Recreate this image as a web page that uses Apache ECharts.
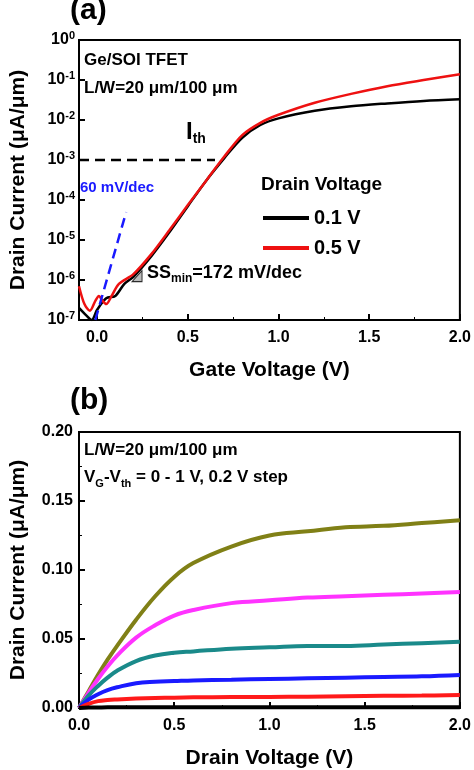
<!DOCTYPE html>
<html><head><meta charset="utf-8">
<script src="https://cdn.jsdelivr.net/npm/echarts@6/dist/echarts.min.js"></script>
<style>html,body{margin:0;padding:0;background:#fff}#main{width:474px;height:770px}</style>
</head><body><div id="main"></div>
<script>
// panel (a): transfer curves, [Vg, Id]
var transfer01 = [[-0.1,2e-7],[-0.06,1.3e-7],[-0.03,1e-7],[0,1.8e-7],[0.05,3.5e-7],[0.1,4e-7],[0.15,8e-7],[0.2,1.2e-6],[0.3,4e-6],[0.4,1.6e-5],[0.5,7e-5],[0.6,3e-4],[0.7,1.1e-3],[0.8,3.6e-3],[0.9,7.5e-3],[1.0,1.1e-2],[1.2,1.7e-2],[1.4,2.2e-2],[1.6,2.6e-2],[1.8,3e-2],[2.0,3.3e-2]];
var transfer05 = [[-0.1,7e-7],[-0.07,2.5e-7],[-0.04,1.7e-7],[-0.01,3e-7],[0.01,4e-7],[0.03,3e-7],[0.05,2.5e-7],[0.08,4e-7],[0.12,8e-7],[0.2,1.4e-6],[0.3,4.5e-6],[0.4,1.8e-5],[0.5,7.5e-5],[0.6,3e-4],[0.7,1.2e-3],[0.8,4.2e-3],[0.9,8.5e-3],[1.0,1.35e-2],[1.2,2.7e-2],[1.4,4.5e-2],[1.6,7e-2],[1.8,1e-1],[2.0,1.4e-1]];
var slope60 = [[-0.01,1e-7],[0.16,5e-5]];
var ithLine = [[-0.1,1e-3],[0.65,1e-3]];
var gateTicks = [0,0.5,1,1.5,2];
// panel (b): output curves
var drainV = [0,0.05,0.1,0.15,0.2,0.3,0.4,0.5,0.6,0.8,1.0,1.2,1.4,1.6,1.8,2.0];
var out00 = [0,0.0003,0.0004,0.0005,0.0005,0.0005,0.0005,0.0005,0.0005,0.0005,0.0005,0.0005,0.0005,0.0005,0.0005,0.0005];
var out02 = [0,0.003,0.005,0.0058,0.0062,0.0068,0.0072,0.0075,0.0077,0.0079,0.008,0.0082,0.0085,0.0088,0.009,0.0095];
var out04 = [0,0.006,0.01,0.013,0.015,0.018,0.019,0.0195,0.02,0.0205,0.021,0.0215,0.022,0.0225,0.023,0.024];
var out06 = [0,0.009,0.016,0.022,0.027,0.034,0.038,0.04,0.041,0.043,0.044,0.045,0.045,0.046,0.047,0.048];
var out08 = [0,0.011,0.021,0.03,0.038,0.051,0.06,0.067,0.071,0.076,0.078,0.08,0.081,0.082,0.083,0.084];
var out10 = [0,0.012,0.024,0.035,0.045,0.064,0.081,0.095,0.105,0.117,0.125,0.128,0.131,0.132,0.134,0.136];
var outColors = ['#000000','#ff1a1a','#1a1aff','#1a8a8a','#ff33ff','#808016'];

function pairs(ys){ return drainV.map(function(x,i){ return [x, ys[i]]; }); }
var F = 'Liberation Sans, Arial, sans-serif';
var lab = {color:'#000', fontFamily:F, fontWeight:'bold', fontSize:16};
var nameSt = {color:'#000', fontFamily:F, fontWeight:'bold', fontSize:21};
var axLine = {show:true, onZero:false, lineStyle:{color:'#000', width:2}};

var outSeries = [out00,out02,out04,out06,out08,out10].map(function(d,i){
  return {type:'line', xAxisIndex:1, yAxisIndex:1, data:pairs(d), showSymbol:false, smooth:0.4,
    lineStyle:{color:outColors[i], width:4}, z:10-i};
});

var chart = echarts.init(document.getElementById('main'));
chart.setOption({
  animation:false,
  grid:[
    {left:74, top:40, width:387, height:280, show:true, borderColor:'#000', borderWidth:2},
    {left:74, top:432, width:388, height:282, show:true, borderColor:'#000', borderWidth:2}
  ],
  xAxis:[
    {type:'value', gridIndex:0, min:-0.1, max:2.0, axisLine:axLine, splitLine:{show:false},
     axisTick:{inside:true, length:6, lineStyle:{width:2}, customValues:gateTicks},
     minorTick:{show:true, splitNumber:2, length:3},
     axisLabel:Object.assign({customValues:gateTicks, margin:10, formatter:function(v){return v.toFixed(1);}}, lab),
     name:'Gate Voltage (V)', nameLocation:'middle', nameGap:40, nameTextStyle:nameSt},
    {type:'value', gridIndex:1, min:0, max:2, interval:0.5, axisLine:axLine, splitLine:{show:false},
     axisTick:{inside:true, length:6, lineStyle:{width:2}},
     minorTick:{show:true, splitNumber:2, length:3},
     axisLabel:Object.assign({margin:10, formatter:function(v){return v.toFixed(1);}}, lab),
     name:'Drain Voltage (V)', nameLocation:'middle', nameGap:40, nameTextStyle:nameSt}
  ],
  yAxis:[
    {type:'log', gridIndex:0, min:1e-7, max:1, logBase:10, axisLine:axLine, splitLine:{show:false},
     axisTick:{inside:true, length:6, lineStyle:{width:2}},
     axisLabel:Object.assign({margin:4, formatter:function(v){return '{b|10}{s|'+Math.round(Math.log10(v))+'}';},
       rich:{b:{fontFamily:F,fontWeight:'bold',fontSize:16,color:'#000'},s:{fontFamily:F,fontWeight:'bold',fontSize:11,color:'#000',verticalAlign:'top',padding:[0,0,9,0]}}}, lab),
     name:'Drain Current (μA/μm)', nameLocation:'middle', nameGap:50, nameTextStyle:nameSt},
    {type:'value', gridIndex:1, min:0, max:0.2, interval:0.05, axisLine:axLine, splitLine:{show:false},
     axisTick:{inside:true, length:6, lineStyle:{width:2}},
     minorTick:{show:true, splitNumber:2, length:3},
     axisLabel:Object.assign({margin:6, formatter:function(v){return v.toFixed(2);}}, lab),
     name:'Drain Current (μA/μm)', nameLocation:'middle', nameGap:50, nameTextStyle:nameSt}
  ],
  legend:{data:['0.1 V','0.5 V'], orient:'vertical', left:258, top:203, itemWidth:46, itemHeight:4, itemGap:10,
    icon:'rect', textStyle:{color:'#000', fontFamily:F, fontWeight:'bold', fontSize:20}},
  series:[
    {name:'0.1 V', type:'line', data:transfer01, showSymbol:false, smooth:0.3, lineStyle:{color:'#000', width:2.5}, itemStyle:{color:'#000'}},
    {name:'0.5 V', type:'line', data:transfer05, showSymbol:false, smooth:0.3, lineStyle:{color:'#ee1111', width:2.5}, itemStyle:{color:'#ee1111'}},
    {type:'line', data:slope60, showSymbol:false, lineStyle:{color:'#1a1aff', width:2.5, type:[10,6]}},
    {type:'line', data:ithLine, showSymbol:false, lineStyle:{color:'#000', width:2.5, type:[10,6]}},
    {type:'scatter', data:[[0.22,1.25e-6]], symbol:'path://M10,0 L10,10 L0,10 Z', symbolSize:[10,11],
     itemStyle:{color:'#aaa', borderColor:'#000', borderWidth:1}}
  ].concat(outSeries),
  graphic:[
    {type:'text', left:70, top:-4, style:{text:'(a)', font:'bold 30px '+F, fill:'#000'}},
    {type:'text', left:84, top:52, style:{text:'Ge/SOI TFET', font:'bold 17px '+F, fill:'#000'}},
    {type:'text', left:84, top:80, style:{text:'L/W=20 μm/100 μm', font:'bold 17px '+F, fill:'#000'}},
    {type:'text', left:186, top:120, style:{text:'{i|I}{s|th}', rich:{i:{font:'bold 24px '+F,fill:'#000'},s:{font:'bold 14px '+F,fill:'#000',padding:[14,0,0,0]}}}},
    {type:'text', left:80, top:180, style:{text:'60 mV/dec', font:'bold 15px '+F, fill:'#1a1aff'}},
    {type:'text', left:261, top:175, style:{text:'Drain Voltage', font:'bold 19px '+F, fill:'#000'}},
    {type:'text', left:147, top:264, style:{text:'{a|SS}{s|min}{a|=172 mV/dec}', rich:{a:{font:'bold 18px '+F,fill:'#000'},s:{font:'bold 12px '+F,fill:'#000',padding:[12,0,0,0]}}}},
    {type:'text', left:70, top:386, style:{text:'(b)', font:'bold 30px '+F, fill:'#000'}},
    {type:'text', left:84, top:442, style:{text:'L/W=20 μm/100 μm', font:'bold 17px '+F, fill:'#000'}},
    {type:'text', left:84, top:469, style:{text:'{a|V}{s|G}{a|-V}{s|th}{a| = 0 - 1 V, 0.2 V step}', rich:{a:{font:'bold 17px '+F,fill:'#000'},s:{font:'bold 11px '+F,fill:'#000',padding:[12,0,0,0]}}}}
  ]
});
</script>
</body></html>
